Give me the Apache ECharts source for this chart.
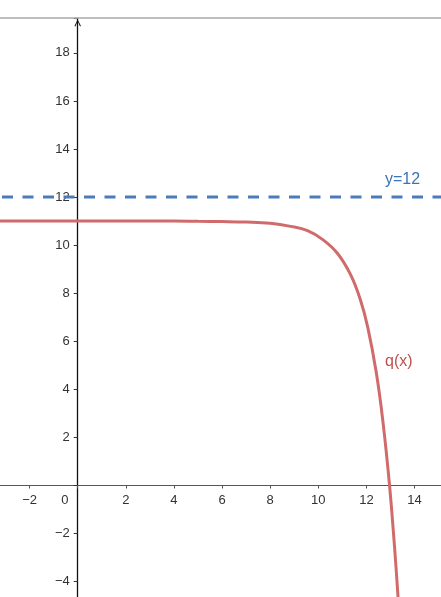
<!DOCTYPE html>
<html>
<head>
<meta charset="utf-8">
<script src="https://cdn.jsdelivr.net/npm/echarts@6/dist/echarts.min.js"></script>
<style>
html,body{margin:0;padding:0;background:#fff;}
#c{width:441px;height:597px;}
</style>
</head>
<body>
<div id="c"></div>
<script>
// Curve q(x)
var qX = [-4, 0, 2, 4, 5, 6, 7, 8, 8.85, 9.55, 10.2, 10.8, 11.35, 11.75, 12.05, 12.4, 12.68, 12.96, 13.17, 13.31, 13.45];
var qY = [11, 11, 11, 11, 10.99, 10.98, 10.96, 10.91, 10.78, 10.6, 10.22, 9.65, 8.75, 7.72, 6.6, 4.75, 2.7, 0, -2.6, -4.6, -6.7];
// Horizontal asymptote y = 12
var asymX = [-4, 16];
var asymY = [12, 12];
// Axis ranges / ticks
var xRange = [-4, 16];
var yRange = [-6, 19.45];
var tickStep = 2;

var FONT = '"Liberation Sans", Arial, sans-serif';
// layout (px)
var G = {left: -18.5, right: -21.7, top: 18, bottom: -32.7};
var X0PX = 77.7, Y0PX = 485.5, H = 597;
function fmt(v) {
  if (Math.abs(v % 2) > 1e-6) return '';
  return String(v).replace('-', '\u2212');
}
function zip(a, b) { return a.map(function (v, i) { return [v, b[i]]; }); }

var chart = echarts.init(document.getElementById('c'), null, {renderer: 'canvas'});
chart.setOption({
  backgroundColor: '#ffffff',
  animation: false,
  grid: {left: G.left, right: G.right, top: G.top, bottom: G.bottom, outerBoundsMode: 'none'},
  xAxis: {
    type: 'value', min: xRange[0], max: xRange[1], interval: tickStep,
    position: 'bottom', offset: -((H - G.bottom) - Y0PX),
    axisLine: {onZero: false, lineStyle: {color: '#555', width: 1.2}},
    axisTick: {show: true, length: 3, lineStyle: {color: '#555'}},
    splitLine: {show: false},
    axisLabel: {
      margin: 8, color: '#333', fontSize: 13, fontFamily: FONT,
      formatter: function (v) { return v === 0 ? '{z|0}' : fmt(v); },
      rich: {z: {color: '#333', fontSize: 13, fontFamily: FONT, padding: [0, 26, 0, 0]}}
    }
  },
  yAxis: {
    type: 'value', min: yRange[0], max: yRange[1], interval: tickStep,
    position: 'left', offset: -(X0PX - G.left),
    axisLine: {
      onZero: false, lineStyle: {color: '#111', width: 1.3},
      symbol: ['none', 'path://M0,10 L5,0 L10,10 L8.6,10.8 L5,2.6 L1.4,10.8 Z'],
      symbolSize: [10, 7], symbolOffset: [0, -5]
    },
    axisTick: {show: true, length: 4, lineStyle: {color: '#333'}},
    splitLine: {show: false},
    axisLabel: {
      margin: 8, color: '#333', fontSize: 13, fontFamily: FONT,
      formatter: function (v) { return v === 0 ? '' : fmt(v); }
    }
  },
  series: [
    {
      type: 'line', data: zip(asymX, asymY), showSymbol: false, symbol: 'none',
      lineStyle: {color: '#4a7cbd', width: 3, type: [11, 9.5]}, z: 3
    },
    {
      type: 'line', data: zip(qX, qY), showSymbol: false, symbol: 'none',
      smooth: 0.4, clip: true,
      lineStyle: {color: '#d16b6b', width: 3}, z: 4
    }
  ],
  graphic: [
    {type: 'rect', left: 0, top: 0, shape: {width: 441, height: 17.5}, style: {fill: '#ffffff'}, z: 100},
    {type: 'line', shape: {x1: 0, y1: 18, x2: 441, y2: 18}, style: {stroke: '#a8a8a8', lineWidth: 1.6}, z: 101},
    {type: 'text', left: 385, top: 172, style: {text: 'y=12', fill: '#3f72b3', font: '16px ' + FONT}, z: 50},
    {type: 'text', left: 385, top: 354, style: {text: 'q(x)', fill: '#c0504f', font: '16px ' + FONT}, z: 50}
  ]
});
</script>
</body>
</html>
